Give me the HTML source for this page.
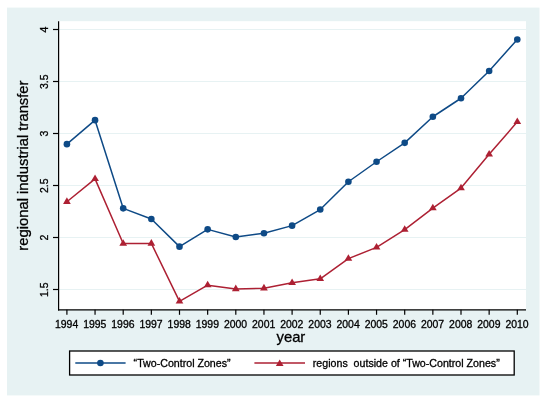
<!DOCTYPE html>
<html><head><meta charset="utf-8"><title>regional industrial transfer</title>
<style>html,body{margin:0;padding:0;background:#fff}svg{display:block}text{font-family:"Liberation Sans", Arial, sans-serif;fill:#000;stroke:#000;stroke-width:0.3px}</style></head><body>
<svg width="550" height="403" viewBox="0 0 550 403">
<rect x="0" y="0" width="550" height="403" fill="#fff"/>
<rect x="7" y="7.6" width="532.5" height="387.8" fill="#e7f2f3"/>
<rect x="58.6" y="21.2" width="467.4" height="288.6" fill="#fff"/>
<line x1="58.6" x2="526" y1="289.50" y2="289.50" stroke="#e7f2f3" stroke-width="1.1"/>
<line x1="58.6" x2="526" y1="237.50" y2="237.50" stroke="#e7f2f3" stroke-width="1.1"/>
<line x1="58.6" x2="526" y1="185.50" y2="185.50" stroke="#e7f2f3" stroke-width="1.1"/>
<line x1="58.6" x2="526" y1="133.50" y2="133.50" stroke="#e7f2f3" stroke-width="1.1"/>
<line x1="58.6" x2="526" y1="81.50" y2="81.50" stroke="#e7f2f3" stroke-width="1.1"/>
<line x1="58.6" x2="526" y1="29.50" y2="29.50" stroke="#e7f2f3" stroke-width="1.1"/>
<polyline points="66.90,201.75 95.05,178.85 123.20,243.55 151.35,243.45 179.50,301.35 207.65,285.15 235.80,288.95 263.95,288.25 292.10,282.85 320.25,278.85 348.40,258.65 376.55,247.35 404.70,229.55 432.85,208.05 461.00,188.05 489.15,154.35 517.30,121.85" fill="none" stroke="#ad2033" stroke-width="1.5" stroke-linejoin="round"/>
<polygon points="66.90,197.35 63.05,203.95 70.75,203.95" fill="#ad2033"/>
<polygon points="95.05,174.45 91.20,181.05 98.90,181.05" fill="#ad2033"/>
<polygon points="123.20,239.15 119.35,245.75 127.05,245.75" fill="#ad2033"/>
<polygon points="151.35,239.05 147.50,245.65 155.20,245.65" fill="#ad2033"/>
<polygon points="179.50,296.95 175.65,303.55 183.35,303.55" fill="#ad2033"/>
<polygon points="207.65,280.75 203.80,287.35 211.50,287.35" fill="#ad2033"/>
<polygon points="235.80,284.55 231.95,291.15 239.65,291.15" fill="#ad2033"/>
<polygon points="263.95,283.85 260.10,290.45 267.80,290.45" fill="#ad2033"/>
<polygon points="292.10,278.45 288.25,285.05 295.95,285.05" fill="#ad2033"/>
<polygon points="320.25,274.45 316.40,281.05 324.10,281.05" fill="#ad2033"/>
<polygon points="348.40,254.25 344.55,260.85 352.25,260.85" fill="#ad2033"/>
<polygon points="376.55,242.95 372.70,249.55 380.40,249.55" fill="#ad2033"/>
<polygon points="404.70,225.15 400.85,231.75 408.55,231.75" fill="#ad2033"/>
<polygon points="432.85,203.65 429.00,210.25 436.70,210.25" fill="#ad2033"/>
<polygon points="461.00,183.65 457.15,190.25 464.85,190.25" fill="#ad2033"/>
<polygon points="489.15,149.95 485.30,156.55 493.00,156.55" fill="#ad2033"/>
<polygon points="517.30,117.45 513.45,124.05 521.15,124.05" fill="#ad2033"/>
<polyline points="66.90,144.15 95.05,120.15 123.20,208.35 151.35,219.05 179.50,246.65 207.65,229.35 235.80,237.05 263.95,233.25 292.10,225.65 320.25,209.55 348.40,181.75 376.55,161.75 404.70,142.85 432.85,116.75 461.00,98.25 489.15,71.05 517.30,39.45" fill="none" stroke="#0e4a86" stroke-width="1.5" stroke-linejoin="round"/>
<circle cx="66.90" cy="144.15" r="3.3" fill="#0e4a86"/>
<circle cx="95.05" cy="120.15" r="3.3" fill="#0e4a86"/>
<circle cx="123.20" cy="208.35" r="3.3" fill="#0e4a86"/>
<circle cx="151.35" cy="219.05" r="3.3" fill="#0e4a86"/>
<circle cx="179.50" cy="246.65" r="3.3" fill="#0e4a86"/>
<circle cx="207.65" cy="229.35" r="3.3" fill="#0e4a86"/>
<circle cx="235.80" cy="237.05" r="3.3" fill="#0e4a86"/>
<circle cx="263.95" cy="233.25" r="3.3" fill="#0e4a86"/>
<circle cx="292.10" cy="225.65" r="3.3" fill="#0e4a86"/>
<circle cx="320.25" cy="209.55" r="3.3" fill="#0e4a86"/>
<circle cx="348.40" cy="181.75" r="3.3" fill="#0e4a86"/>
<circle cx="376.55" cy="161.75" r="3.3" fill="#0e4a86"/>
<circle cx="404.70" cy="142.85" r="3.3" fill="#0e4a86"/>
<circle cx="432.85" cy="116.75" r="3.3" fill="#0e4a86"/>
<circle cx="461.00" cy="98.25" r="3.3" fill="#0e4a86"/>
<circle cx="489.15" cy="71.05" r="3.3" fill="#0e4a86"/>
<circle cx="517.30" cy="39.45" r="3.3" fill="#0e4a86"/>
<line x1="58.6" x2="58.6" y1="21.2" y2="310.4" stroke="#000" stroke-width="1.2"/>
<line x1="58" x2="526" y1="309.8" y2="309.8" stroke="#000" stroke-width="1.2"/>
<line x1="53" x2="58.6" y1="289.50" y2="289.50" stroke="#000" stroke-width="1.2"/>
<text transform="translate(47.5,289.70) rotate(-90)" text-anchor="middle" font-size="10.45">1.5</text>
<line x1="53" x2="58.6" y1="237.50" y2="237.50" stroke="#000" stroke-width="1.2"/>
<text transform="translate(47.5,237.70) rotate(-90)" text-anchor="middle" font-size="10.45">2</text>
<line x1="53" x2="58.6" y1="185.50" y2="185.50" stroke="#000" stroke-width="1.2"/>
<text transform="translate(47.5,185.70) rotate(-90)" text-anchor="middle" font-size="10.45">2.5</text>
<line x1="53" x2="58.6" y1="133.50" y2="133.50" stroke="#000" stroke-width="1.2"/>
<text transform="translate(47.5,133.70) rotate(-90)" text-anchor="middle" font-size="10.45">3</text>
<line x1="53" x2="58.6" y1="81.50" y2="81.50" stroke="#000" stroke-width="1.2"/>
<text transform="translate(47.5,81.70) rotate(-90)" text-anchor="middle" font-size="10.45">3.5</text>
<line x1="53" x2="58.6" y1="29.50" y2="29.50" stroke="#000" stroke-width="1.2"/>
<text transform="translate(47.5,29.70) rotate(-90)" text-anchor="middle" font-size="10.45">4</text>
<line x1="66.90" x2="66.90" y1="309.8" y2="314.8" stroke="#000" stroke-width="1.2"/>
<text x="66.60" y="327.5" text-anchor="middle" font-size="10.45">1994</text>
<line x1="95.05" x2="95.05" y1="309.8" y2="314.8" stroke="#000" stroke-width="1.2"/>
<text x="94.75" y="327.5" text-anchor="middle" font-size="10.45">1995</text>
<line x1="123.20" x2="123.20" y1="309.8" y2="314.8" stroke="#000" stroke-width="1.2"/>
<text x="122.90" y="327.5" text-anchor="middle" font-size="10.45">1996</text>
<line x1="151.35" x2="151.35" y1="309.8" y2="314.8" stroke="#000" stroke-width="1.2"/>
<text x="151.05" y="327.5" text-anchor="middle" font-size="10.45">1997</text>
<line x1="179.50" x2="179.50" y1="309.8" y2="314.8" stroke="#000" stroke-width="1.2"/>
<text x="179.20" y="327.5" text-anchor="middle" font-size="10.45">1998</text>
<line x1="207.65" x2="207.65" y1="309.8" y2="314.8" stroke="#000" stroke-width="1.2"/>
<text x="207.35" y="327.5" text-anchor="middle" font-size="10.45">1999</text>
<line x1="235.80" x2="235.80" y1="309.8" y2="314.8" stroke="#000" stroke-width="1.2"/>
<text x="235.50" y="327.5" text-anchor="middle" font-size="10.45">2000</text>
<line x1="263.95" x2="263.95" y1="309.8" y2="314.8" stroke="#000" stroke-width="1.2"/>
<text x="263.65" y="327.5" text-anchor="middle" font-size="10.45">2001</text>
<line x1="292.10" x2="292.10" y1="309.8" y2="314.8" stroke="#000" stroke-width="1.2"/>
<text x="291.80" y="327.5" text-anchor="middle" font-size="10.45">2002</text>
<line x1="320.25" x2="320.25" y1="309.8" y2="314.8" stroke="#000" stroke-width="1.2"/>
<text x="319.95" y="327.5" text-anchor="middle" font-size="10.45">2003</text>
<line x1="348.40" x2="348.40" y1="309.8" y2="314.8" stroke="#000" stroke-width="1.2"/>
<text x="348.10" y="327.5" text-anchor="middle" font-size="10.45">2004</text>
<line x1="376.55" x2="376.55" y1="309.8" y2="314.8" stroke="#000" stroke-width="1.2"/>
<text x="376.25" y="327.5" text-anchor="middle" font-size="10.45">2005</text>
<line x1="404.70" x2="404.70" y1="309.8" y2="314.8" stroke="#000" stroke-width="1.2"/>
<text x="404.40" y="327.5" text-anchor="middle" font-size="10.45">2006</text>
<line x1="432.85" x2="432.85" y1="309.8" y2="314.8" stroke="#000" stroke-width="1.2"/>
<text x="432.55" y="327.5" text-anchor="middle" font-size="10.45">2007</text>
<line x1="461.00" x2="461.00" y1="309.8" y2="314.8" stroke="#000" stroke-width="1.2"/>
<text x="460.70" y="327.5" text-anchor="middle" font-size="10.45">2008</text>
<line x1="489.15" x2="489.15" y1="309.8" y2="314.8" stroke="#000" stroke-width="1.2"/>
<text x="488.85" y="327.5" text-anchor="middle" font-size="10.45">2009</text>
<line x1="517.30" x2="517.30" y1="309.8" y2="314.8" stroke="#000" stroke-width="1.2"/>
<text x="517.00" y="327.5" text-anchor="middle" font-size="10.45">2010</text>
<text transform="translate(28.4,165.6) rotate(-90)" text-anchor="middle" font-size="14.8">regional industrial transfer</text>
<text x="290.9" y="342.4" text-anchor="middle" font-size="14.8">year</text>
<rect x="69.6" y="351" width="444.6" height="24" fill="#fff" stroke="#000" stroke-width="1.3"/>
<line x1="75.3" x2="125.6" y1="363.0" y2="363.0" stroke="#0e4a86" stroke-width="1.5"/>
<circle cx="100.4" cy="363.0" r="3.3" fill="#0e4a86"/>
<text x="133.6" y="367.2" font-size="10.65">“Two-Control Zones”</text>
<line x1="254.4" x2="305" y1="363.0" y2="363.0" stroke="#ad2033" stroke-width="1.5"/>
<polygon points="279.70,359.40 275.85,366.00 283.55,366.00" fill="#ad2033"/>
<text x="312.8" y="367.2" font-size="10.65" xml:space="preserve">regions  outside of “Two-Control Zones”</text>
</svg></body></html>
